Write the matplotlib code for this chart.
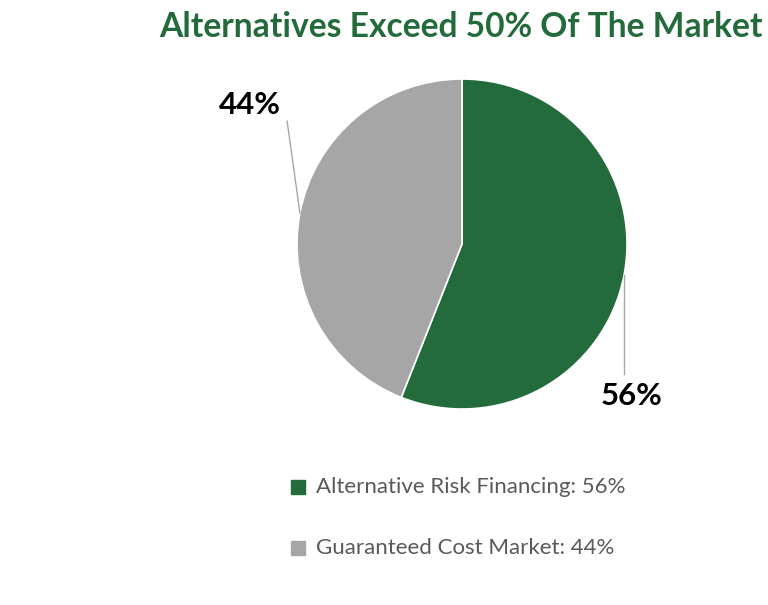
import matplotlib
matplotlib.use("Agg")
import matplotlib.pyplot as plt
import numpy as np

categories = ["Alternative Risk Financing", "Guaranteed Cost Market"]
values = [56, 44]
colors = ["#246B3B", "#A6A6A6"]
title = "Alternatives Exceed 50% Of The Market"

plt.rcParams['font.family'] = ['Lato', 'DejaVu Sans']

W, H = 768, 605
fig = plt.figure(figsize=(W / 100, H / 100), dpi=100)
cx, cy, r = 462, 244, 165
ax = fig.add_axes([(cx - r) / W, (H - cy - r) / H, 2 * r / W, 2 * r / H])
wedges, _ = ax.pie(values, colors=colors, startangle=90, counterclock=False,
                   radius=1, wedgeprops=dict(edgecolor="white", linewidth=1.2))
ax.set_xlim(-1, 1)
ax.set_ylim(-1, 1)
ax.set_aspect("equal")
ax.axis("off")

# label placements (text pos, line end) in axes data units
label_pos = [(1.03, -0.92), (-1.285, 0.84)]
line_end = [(None, -0.79), (-1.06, 0.745)]
for w, v, tp, le in zip(wedges, values, label_pos, line_end):
    mid = np.deg2rad((w.theta1 + w.theta2) / 2)
    ex, ey = np.cos(mid), np.sin(mid)
    lx = ex if le[0] is None else le[0]
    ax.plot([ex, lx], [ey, le[1]], color="#A6A6A6", lw=1, clip_on=False)
    ax.text(tp[0], tp[1], f"{v}%", ha="center", va="center", fontsize=22.5,
            fontweight="bold", color="black", clip_on=False)

fig.text(461 / W, 1 - 27 / H, title, ha="center", va="center", fontsize=24.2,
         fontweight="bold", color="#246B3B")

# legend
leg_y = [487, 548]
for c, cat, v, y in zip(colors, categories, values, leg_y):
    fig.patches.append(plt.Rectangle(((298 - 7) / W, 1 - (y + 7) / H), 14 / W, 14 / H,
                                     transform=fig.transFigure, color=c, figure=fig))
    fig.text(316 / W, 1 - y / H, f"{cat}: {v}%", ha="left", va="center",
             fontsize=16, color="#595959")

fig.savefig("out.png", dpi=100)
